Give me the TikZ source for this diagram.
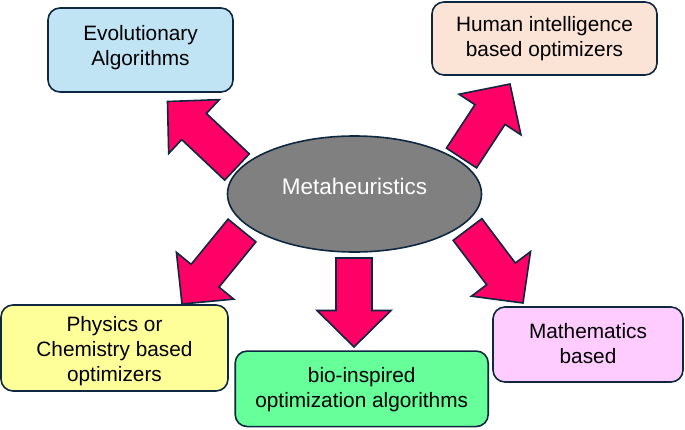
\documentclass[tikz,border=0pt]{standalone}
\usepackage{fontspec}
\setmainfont{Liberation Sans}
\usetikzlibrary{calc,shapes.geometric}
\definecolor{edge}{HTML}{0E2841}
\definecolor{evofill}{HTML}{C1E4F5}
\definecolor{humfill}{HTML}{FBE3D6}
\definecolor{phyfill}{HTML}{FFFF99}
\definecolor{biofill}{HTML}{66FF99}
\definecolor{matfill}{HTML}{FFCCFF}
\definecolor{arrfill}{HTML}{FF0066}
\definecolor{elfill}{HTML}{808080}
\newcommand\topstrut[1]{\rule{0pt}{#1pt}}
\newcommand\botstrut[1]{\rule[-#1pt]{0pt}{#1pt}}
\newcommand\blkarrow[2]{%
  \coordinate (#1base) at ($(#2)!36.5pt!(#1)$);
  \draw[blockarrow] ($(#1)!18pt!90:(#2)$) -- ($(#1base)!18pt!90:(#2)$)
    -- ($(#1base)!37pt!90:(#2)$) -- (#2) -- ($(#1base)!37pt!-90:(#2)$)
    -- ($(#1base)!18pt!-90:(#2)$) -- ($(#1)!18pt!-90:(#2)$) -- cycle;}
\begin{document}
\begin{tikzpicture}[x=1pt,y=-1pt,
  box/.style={draw=edge, line width=1.6pt, rounded corners=12pt, align=center,
    inner sep=0pt, font=\fontsize{20.8}{25}\selectfont},
  blockarrow/.style={draw=edge, line width=1.6pt, fill=arrfill, line join=miter},
  ellnode/.style={ellipse, draw=edge, line width=1.6pt, fill=elfill, inner sep=0pt,
    text=white, font=\fontsize{22.5}{27}\selectfont}]
\useasboundingbox (0,0) rectangle (685,429);
\node[box, fill=evofill, minimum width=185pt, minimum height=84pt] (evo) at (140.5,50)
  {\topstrut{16.4}Evolutionary\\Algorithms\botstrut{10}};
\node[box, fill=humfill, minimum width=225pt, minimum height=73pt] (hum) at (544.5,38.5)
  {\topstrut{21.4}Human intelligence\\based optimizers\botstrut{10}};
\node[box, fill=phyfill, minimum width=227pt, minimum height=82pt] (phy) at (114.5,348)
  {\topstrut{26}Physics or\\Chemistry based\\optimizers\botstrut{10}};
\node[box, fill=biofill, minimum width=253pt, minimum height=75.5pt] (bio) at (361.7,388.8)
  {\topstrut{23}bio-inspired\\optimization algorithms\botstrut{10}};
\node[box, fill=matfill, minimum width=190pt, minimum height=75pt] (mat) at (588,344.5)
  {\topstrut{22.6}Mathematics\\based\botstrut{10}};
\node[ellnode, minimum width=254pt, minimum height=116pt, text depth=16pt, text height=16.4pt] (meta) at (354.5,194) {Metaheuristics};
\coordinate (t1) at (237,167);   \coordinate (h1) at (167.5,101.5);
\coordinate (t2) at (461.5,158); \coordinate (h2) at (510,84);
\coordinate (t3) at (242,230.5); \coordinate (h3) at (182,304);
\coordinate (t4) at (354,258);   \coordinate (h4) at (354,347);
\coordinate (t5) at (467.5,229.5); \coordinate (h5) at (523,303);
\blkarrow{t1}{h1}
\blkarrow{t2}{h2}
\blkarrow{t3}{h3}
\blkarrow{t4}{h4}
\blkarrow{t5}{h5}
\end{tikzpicture}
\end{document}
